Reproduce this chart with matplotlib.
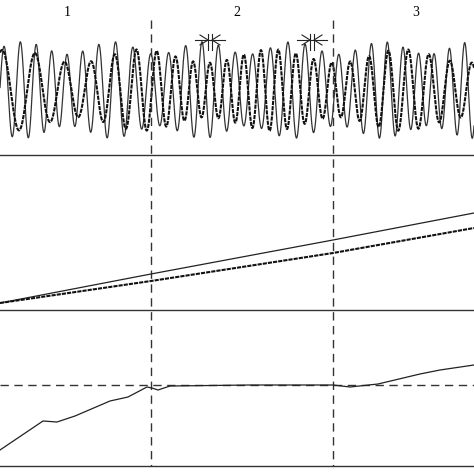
import numpy as np
import matplotlib.pyplot as plt

# panel geometry in pixel units (y grows downward)
region_labels = ['1', '2', '3']
label_x = [67, 237, 416]
boundaries_x = [151, 333]

# instantaneous frequency (cycles per pixel) of the two top-panel signals
freq_x = [0, 60, 120, 151, 200, 260, 333, 400, 474]
freq_solid = [0.060, 0.066, 0.058, 0.055, 0.062, 0.056, 0.060, 0.064, 0.066]
freq_dotted = [0.028, 0.035, 0.045, 0.050, 0.060, 0.058, 0.055, 0.050, 0.045]

# middle panel: accumulated phase lines
phase_x = [0, 151, 333, 474]
phase_a = [303, 274, 240, 213]
phase_b = [303, 281, 253, 228]

# bottom panel: phase difference
diff_x = [0, 43, 57, 75, 110, 128, 147, 152, 158, 170, 250, 333, 350, 378, 420, 440, 474]
diff_y = [450, 421, 422, 416, 401, 397, 387, 388, 390, 386, 385, 385, 387, 384, 374, 370, 365]
diff_ref = 385

fig = plt.figure(figsize=(4.74, 4.74), dpi=100)
ax = fig.add_axes([0, 0, 1, 1])
ax.set_xlim(0, 474)
ax.set_ylim(474, 0)
ax.axis('off')

x = np.linspace(0, 474, 3000)
dx = x[1] - x[0]
ph1 = 2 * np.pi * np.cumsum(np.interp(x, freq_x, freq_solid)) * dx
ph2 = 2 * np.pi * np.cumsum(np.interp(x, freq_x, freq_dotted)) * dx + 1.2
env1 = 1 + 0.15 * np.sin(2 * np.pi * x / 90)
env2 = 1 + 0.2 * np.sin(2 * np.pi * x / 130 + 1)
ax.plot(x, 90 - 42 * env1 * np.sin(ph1), color='#333', lw=0.9)
ax.plot(x, 90 - 34 * env2 * np.sin(ph2), color='#111', lw=1.5, ls=(0, (2, 0.5)))

for lx, lab in zip(label_x, region_labels):
    ax.text(lx, 12, lab, ha='center', va='center', fontsize=10, family='Liberation Serif')

# period markers
for mx in [210, 312]:
    ax.plot([mx - 2, mx - 2], [34, 50], color='#222', lw=0.8)
    ax.plot([mx + 2, mx + 2], [34, 50], color='#222', lw=0.8)
    ax.plot([mx - 15, mx + 15], [40, 40], color='#222', lw=0.8)
    ax.plot([mx - 10, mx - 2, mx - 10], [35, 40, 45], color='#222', lw=0.8)
    ax.plot([mx + 10, mx + 2, mx + 10], [35, 40, 45], color='#222', lw=0.8)

for yb in [155, 310, 466]:
    ax.plot([0, 474], [yb, yb], color='#333', lw=1.0)
for bx in boundaries_x:
    ax.plot([bx, bx], [20, 466], color='#333', lw=1.0, ls=(0, (6, 4)))

ax.plot(phase_x, phase_a, color='#222', lw=0.9)
ax.plot(phase_x, phase_b, color='#111', lw=1.5, ls=(0, (2, 0.5)))

ax.plot([0, 474], [diff_ref, diff_ref], color='#333', lw=1.0, ls=(0, (6, 4)))
ax.plot(diff_x, diff_y, color='#222', lw=0.9)

fig.savefig('out.png', dpi=100)
